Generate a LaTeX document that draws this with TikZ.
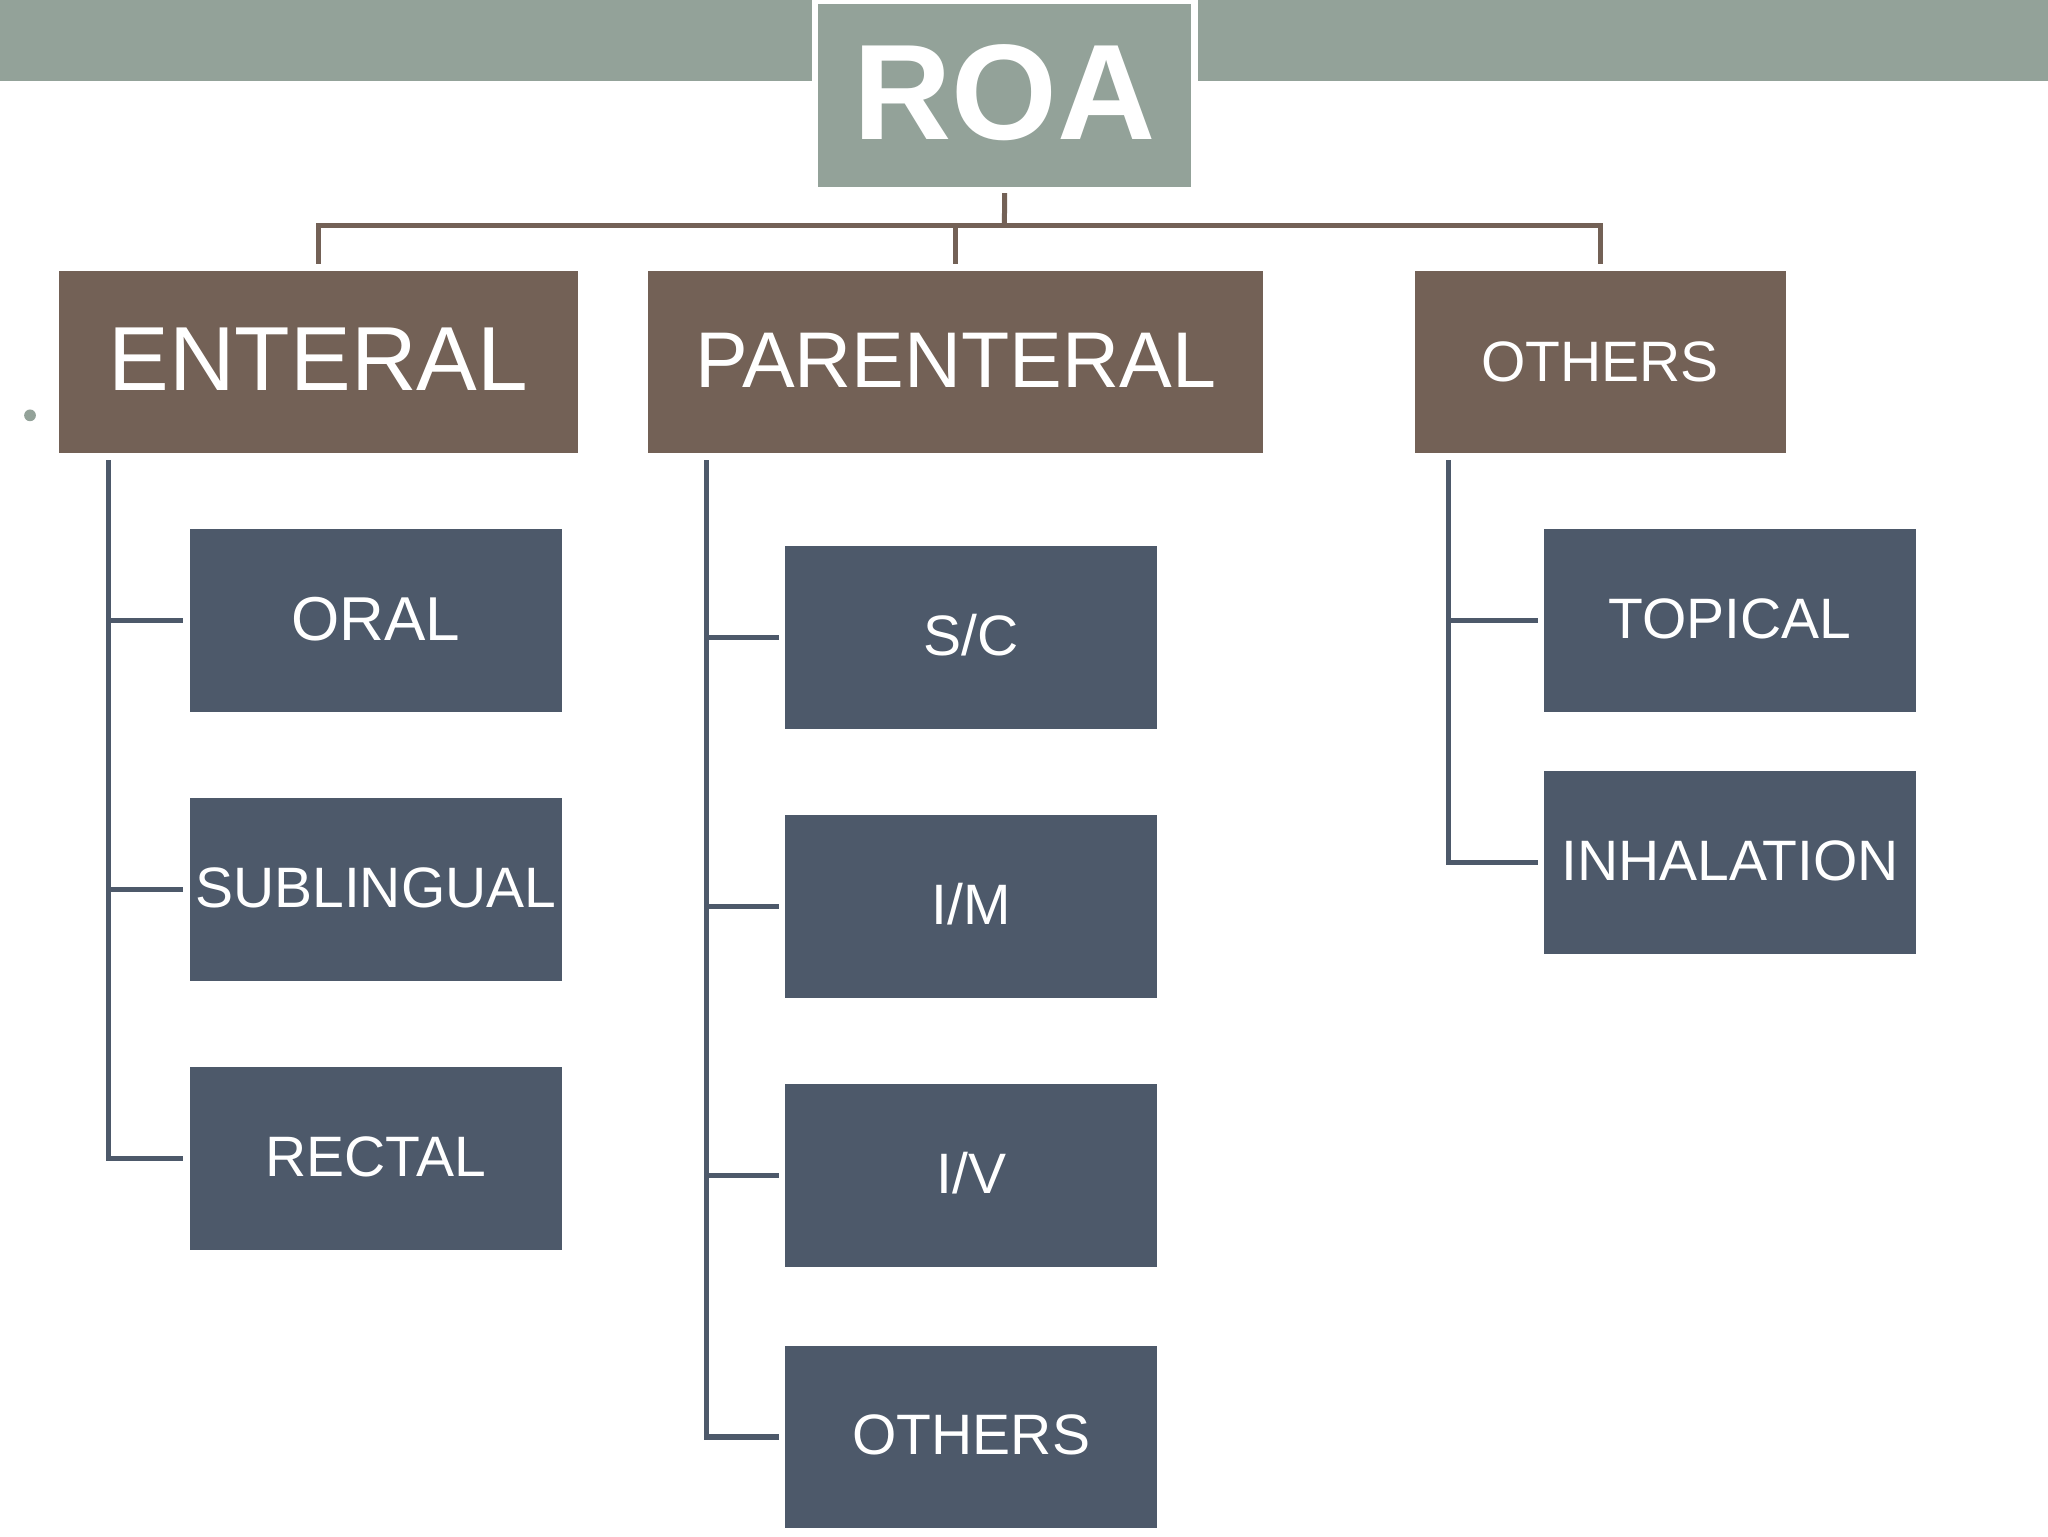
\documentclass[tikz,border=0pt]{standalone}
\usepackage{fontspec}
\setmainfont{Liberation Sans}
\usetikzlibrary{calc}
\definecolor{sage}{HTML}{93A299}
\definecolor{umber}{HTML}{736156}
\definecolor{slate}{HTML}{4D596A}
\def\pxs{1.3061}
\begin{document}
\begin{tikzpicture}[x=1.3061pt,y=-1.3061pt,
  box/.style={anchor=north west, inner sep=0pt, text=white, minimum height=\pxs*140pt},
  lvone/.style={box, fill=umber},
  lvtwo/.style={box, fill=slate, minimum width=\pxs*285pt, font=\fontsize{57}{57}\selectfont, text height=40.8pt, text depth=5pt},
  umberline/.style={draw=umber, line width=5pt},
  slateline/.style={draw=slate, line width=5.5pt, shorten >=6pt}]
\useasboundingbox (0,0) rectangle (1568,1176);
\fill[white] (0,0) rectangle (1568,1176);
% top bar
\fill[sage] (0,0) rectangle (622,62);
\fill[sage] (917,0) rectangle (1568,62);
\node[box, fill=sage, minimum width=\pxs*286pt, font=\bfseries\fontsize{136}{136}\selectfont, text height=97.4pt, text depth=10pt] (roa) at (626,3) {ROA};
% bullet
\node[circle, fill=sage, minimum size=\pxs*9pt, inner sep=0pt] (dot) at (23,318) {};
% level one
\node[lvone, minimum width=\pxs*397pt, font=\fontsize{91}{91}\selectfont, text height=65.2pt, text depth=8.4pt] (enteral) at (45,207) {ENTERAL};
\node[lvone, minimum width=\pxs*471pt, font=\fontsize{79}{79}\selectfont, text height=56.6pt, text depth=5pt] (parenteral) at (496,207) {PARENTERAL};
\node[lvone, minimum width=\pxs*284pt, font=\fontsize{57}{57}\selectfont, text height=40.8pt, text depth=1.5pt] (othersA) at (1083,207) {OTHERS};
% level two
\node[lvtwo, font=\fontsize{62}{62}\selectfont, text height=44.4pt, text depth=4pt] (oral) at (145,405) {ORAL};
\node[lvtwo] (sublingual) at (145,611) {SUBLINGUAL};
\node[lvtwo] (rectal) at (145,817) {RECTAL};
\node[lvtwo] (sc) at (601,418) {S/C};
\node[lvtwo] (im) at (601,624) {I/M};
\node[lvtwo] (iv) at (601,830) {I/V};
\node[lvtwo] (othersB) at (601,1030) {OTHERS};
\node[lvtwo] (topical) at (1182,405) {TOPICAL};
\node[lvtwo] (inhal) at (1182,590) {INHALATION};
% top connectors
\coordinate (hub) at (769,173);
\draw[umberline] ([yshift=-6pt]roa.south) -- (hub);
\draw[umberline] (hub) -| ([yshift=6pt]enteral.north);
\draw[umberline] (hub) -| ([yshift=6pt]parenteral.north);
\draw[umberline] (hub) -| ([yshift=6pt]othersA.north);
% branch connectors
\coordinate (entv) at ($(enteral.south west)+(38,5)$);
\coordinate (parv) at ($(parenteral.south west)+(45,5)$);
\coordinate (othv) at ($(othersA.south west)+(26,5)$);
\foreach \c in {oral,sublingual,rectal}{\draw[slateline] (entv) |- (\c.west);}
\foreach \c in {sc,im,iv,othersB}{\draw[slateline] (parv) |- (\c.west);}
\foreach \c in {topical,inhal}{\draw[slateline] (othv) |- (\c.west);}
\end{tikzpicture}
\end{document}
